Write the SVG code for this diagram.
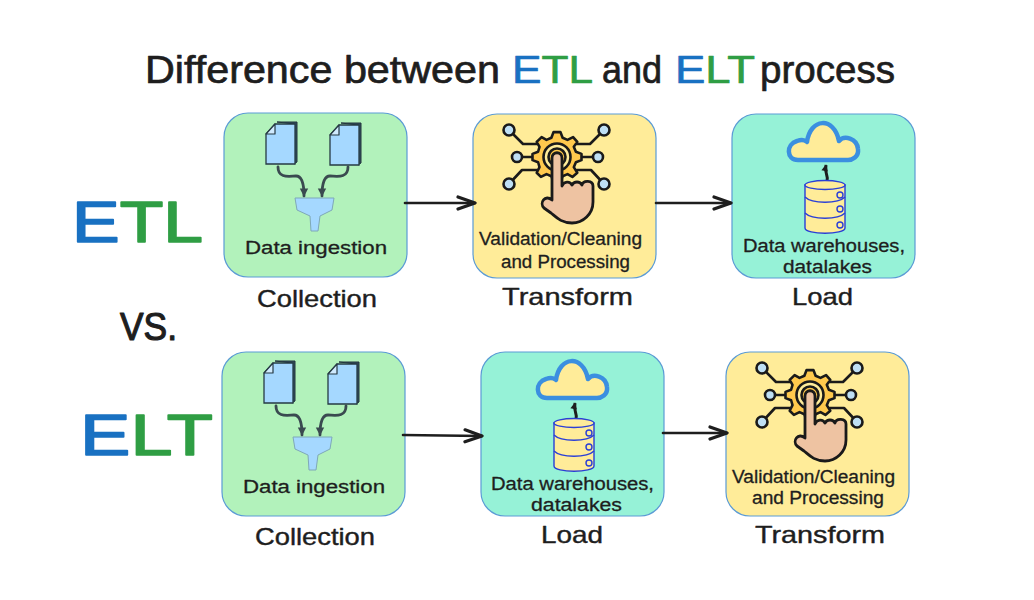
<svg xmlns="http://www.w3.org/2000/svg" width="1034" height="600" viewBox="0 0 1034 600">
<style>
text{font-family:"Liberation Sans",Arial,sans-serif;fill:#1e1e1e;stroke:#1e1e1e;stroke-linejoin:round}
.title{font-size:38px;stroke-width:.7}
.side{font-size:57px;stroke-width:1.6}
.vs{font-size:39px;stroke-width:1.2}
.inner{font-size:18px;stroke-width:.3}
.cap{font-size:24px;stroke-width:.4}
.card{stroke:#5b9bd5;stroke-width:1.2}
.green{fill:#b2f2bb}.yellow{fill:#ffec99}.teal{fill:#96f2d7}
.b{fill:#1971c2;stroke:#1971c2}.g{fill:#2f9e44;stroke:#2f9e44}
.conn{fill:none;stroke:#1e1e1e;stroke-width:2.6;stroke-linecap:round}
.fl{fill:none;stroke:#3a4a50;stroke-width:2.8;stroke-linecap:round}
.ic{stroke:#1a1a1a;stroke-width:2.6;stroke-linecap:round;stroke-linejoin:round}
.db{stroke:#2a3fd6;stroke-width:1.4}
</style>
<defs>
<marker id="arr" viewBox="0 0 22 18" refX="20" refY="9" markerWidth="22" markerHeight="18" markerUnits="userSpaceOnUse" orient="auto"><path d="M3 3L20 9L3 15" fill="none" stroke="#1e1e1e" stroke-width="3.2" stroke-linecap="round" stroke-linejoin="round"/></marker>
<marker id="arrs" viewBox="0 0 12 12" refX="10" refY="6" markerWidth="10" markerHeight="10" markerUnits="userSpaceOnUse" orient="auto"><path d="M1 1L11 6L1 11Z" fill="#3a4a50"/></marker>
<marker id="arrk" viewBox="0 0 12 12" refX="10" refY="6" markerWidth="8" markerHeight="8" markerUnits="userSpaceOnUse" orient="auto"><path d="M1 1L11 6L1 11Z" fill="#1e1e1e"/></marker>
<g id="doc">
<path d="M11 0H31V40L28 42V2Z" fill="#33505f" stroke="#22333c" stroke-width="1"/>
<path d="M9 2H29V42H0V12Z" fill="#a5d8ff" stroke="#263a44" stroke-width="1.300"/>
<path d="M9 2V12H0Z" fill="#d0ebff" stroke="#263a44" stroke-width="1.200" stroke-linejoin="round"/>
</g>
<g id="collect">
<use href="#doc" x="42" y="9"/>
<use href="#doc" x="106" y="10"/>
<path class="fl" marker-end="url(#arrs)" d="M54 54C54 66 66 63 72 63C78 63 80 70 80 83"/>
<path class="fl" marker-end="url(#arrs)" d="M124 54C124 66 112 63 106 63C100 63 98 70 98 83"/>
<path d="M71 85H110L108 97L96 103L94 118H87L86 103L73 97Z" fill="#a5d8ff" stroke="#7fa8b8" stroke-width="1"/>
</g>
<g id="hub">
<path class="ic" fill="none" d="M36 16L50 30H64M44 43H62M36 70L49 56H64M131 16L117 30H104M125 43H107M131 70L118 56H104"/>
<circle class="ic" cx="36" cy="16" r="5.500" fill="#bfe0f5"/>
<circle class="ic" cx="44" cy="43" r="5" fill="#bfe0f5"/>
<circle class="ic" cx="36" cy="70" r="5.500" fill="#bfe0f5"/>
<circle class="ic" cx="131" cy="16" r="5.500" fill="#bfe0f5"/>
<circle class="ic" cx="125" cy="43" r="5" fill="#bfe0f5"/>
<circle class="ic" cx="131" cy="70" r="5.500" fill="#bfe0f5"/>
<path class="ic" fill="#ffc94d" style="stroke-width:3.700" transform="translate(84 43) scale(.7) translate(-84 -43.500)" d="M76 16L79 8H89L92 16L99 19L107 15L113 22L108 29L111 36L119 39V48L111 51L108 58L113 66L106 72L99 68L92 71L89 79H79L76 71L69 68L61 72L55 66L59 58L57 51L49 48V39L57 36L59 29L55 22L62 15L69 19Z"/>
<circle class="ic" cx="84" cy="43" r="13.500" fill="#ffec99"/>
<circle class="ic" cx="84" cy="43" r="8.500" fill="#ffc94d"/>
<path class="ic" fill="#eec3a2" style="stroke-width:2.800" d="M79 86V44C79 37 89 37 89 44V72C91 67 97 67 99 71C101 67 107 67 109 71C110 66 120 66 120 72V88C120 100 110 109 99 109C88 109 83 103 78 99L71 94C66 89 72 80 79 86Z"/>
</g>
<g id="store">
<path d="M66 46C54 46 54 30 65 27C70 25 73 26 75 28C78 4 102 2 107 27C112 21 125 24 126 35C127 43 120 46 116 46Z" fill="#ffec99" stroke="#3b8fe0" stroke-width="4.500" stroke-linejoin="round"/>
<path d="M95 67C97 62 92 60 94 51" fill="none" stroke="#1e1e1e" stroke-width="3" marker-end="url(#arrk)"/>
<path class="db" d="M73 71V114C73 121 113 121 113 114V71Z" fill="#ffec99"/>
<ellipse class="db" cx="93" cy="71" rx="20" ry="4.500" fill="#ffec99"/>
<path class="db" d="M73 83C80 90 106 90 113 83M73 99C80 106 106 106 113 99" fill="none"/>
<circle class="db" cx="108" cy="81" r="3" fill="none"/>
<circle class="db" cx="108" cy="95" r="3" fill="none"/>
<circle class="db" cx="108" cy="111" r="3" fill="none"/>
</g>
</defs>
<rect width="1034" height="600" fill="#fff"/>

<g id="title">
<text class="title" x="145" y="83" textLength="355" lengthAdjust="spacingAndGlyphs">Difference between</text>
<text class="title" x="512" y="83" textLength="81" lengthAdjust="spacingAndGlyphs"><tspan class="b">E</tspan><tspan class="g">TL</tspan></text>
<text class="title" x="602" y="83" textLength="60" lengthAdjust="spacingAndGlyphs">and</text>
<text class="title" x="675" y="83" textLength="80" lengthAdjust="spacingAndGlyphs"><tspan class="b">E</tspan><tspan class="g">LT</tspan></text>
<text class="title" x="760" y="83" textLength="135" lengthAdjust="spacingAndGlyphs">process</text>
</g>
<g id="label-etl"><text class="side" x="72" y="242" textLength="131" lengthAdjust="spacingAndGlyphs"><tspan class="b">E</tspan><tspan class="g">TL</tspan></text></g>
<g id="label-vs"><text class="vs" x="120" y="340" textLength="57" lengthAdjust="spacingAndGlyphs">VS.</text></g>
<g id="label-elt"><text class="side" x="80" y="455" textLength="133" lengthAdjust="spacingAndGlyphs"><tspan class="b">E</tspan><tspan class="g">LT</tspan></text></g>

<g id="etl-collection">
<rect class="card green" x="224" y="113" width="183" height="164" rx="24"/>
<use href="#collect" x="224" y="113"/>
<text class="inner" x="245" y="254" textLength="142" lengthAdjust="spacingAndGlyphs">Data ingestion</text>
<text class="cap" x="257" y="307" textLength="120" lengthAdjust="spacingAndGlyphs">Collection</text>
</g>
<g id="etl-transform">
<rect class="card yellow" x="473" y="114" width="183" height="164" rx="24"/>
<use href="#hub" x="473" y="114"/>
<text class="inner" x="479" y="245" textLength="163" lengthAdjust="spacingAndGlyphs">Validation/Cleaning</text>
<text class="inner" x="501" y="268" textLength="129" lengthAdjust="spacingAndGlyphs">and Processing</text>
<text class="cap" x="502" y="305" textLength="131" lengthAdjust="spacingAndGlyphs">Transform</text>
</g>
<g id="etl-load">
<rect class="card teal" x="732" y="114" width="183" height="164" rx="24"/>
<use href="#store" x="732" y="114"/>
<text class="inner" x="743" y="252" textLength="162" lengthAdjust="spacingAndGlyphs">Data warehouses,</text>
<text class="inner" x="783" y="273" textLength="89" lengthAdjust="spacingAndGlyphs">datalakes</text>
<text class="cap" x="792" y="305" textLength="61" lengthAdjust="spacingAndGlyphs">Load</text>
</g>

<g id="elt-collection">
<rect class="card green" x="222" y="352" width="183" height="164" rx="24"/>
<use href="#collect" x="222" y="352"/>
<text class="inner" x="243" y="493" textLength="142" lengthAdjust="spacingAndGlyphs">Data ingestion</text>
<text class="cap" x="255" y="545" textLength="120" lengthAdjust="spacingAndGlyphs">Collection</text>
</g>
<g id="elt-load">
<rect class="card teal" x="481" y="352" width="183" height="164" rx="24"/>
<use href="#store" x="481" y="352"/>
<text class="inner" x="491" y="490" textLength="163" lengthAdjust="spacingAndGlyphs">Data warehouses,</text>
<text class="inner" x="531" y="511" textLength="91" lengthAdjust="spacingAndGlyphs">datalakes</text>
<text class="cap" x="541" y="543" textLength="62" lengthAdjust="spacingAndGlyphs">Load</text>
</g>
<g id="elt-transform">
<rect class="card yellow" x="726" y="352" width="183" height="164" rx="24"/>
<use href="#hub" x="726" y="352"/>
<text class="inner" x="732" y="483" textLength="163" lengthAdjust="spacingAndGlyphs">Validation/Cleaning</text>
<text class="inner" x="752" y="504" textLength="132" lengthAdjust="spacingAndGlyphs">and Processing</text>
<text class="cap" x="755" y="543" textLength="130" lengthAdjust="spacingAndGlyphs">Transform</text>
</g>

<g id="connectors">
<path class="conn" marker-end="url(#arr)" d="M405 203H475"/>
<path class="conn" marker-end="url(#arr)" d="M656 203H731"/>
<path class="conn" marker-end="url(#arr)" d="M403 435L482 436"/>
<path class="conn" marker-end="url(#arr)" d="M663 433H727"/>
</g>
</svg>
